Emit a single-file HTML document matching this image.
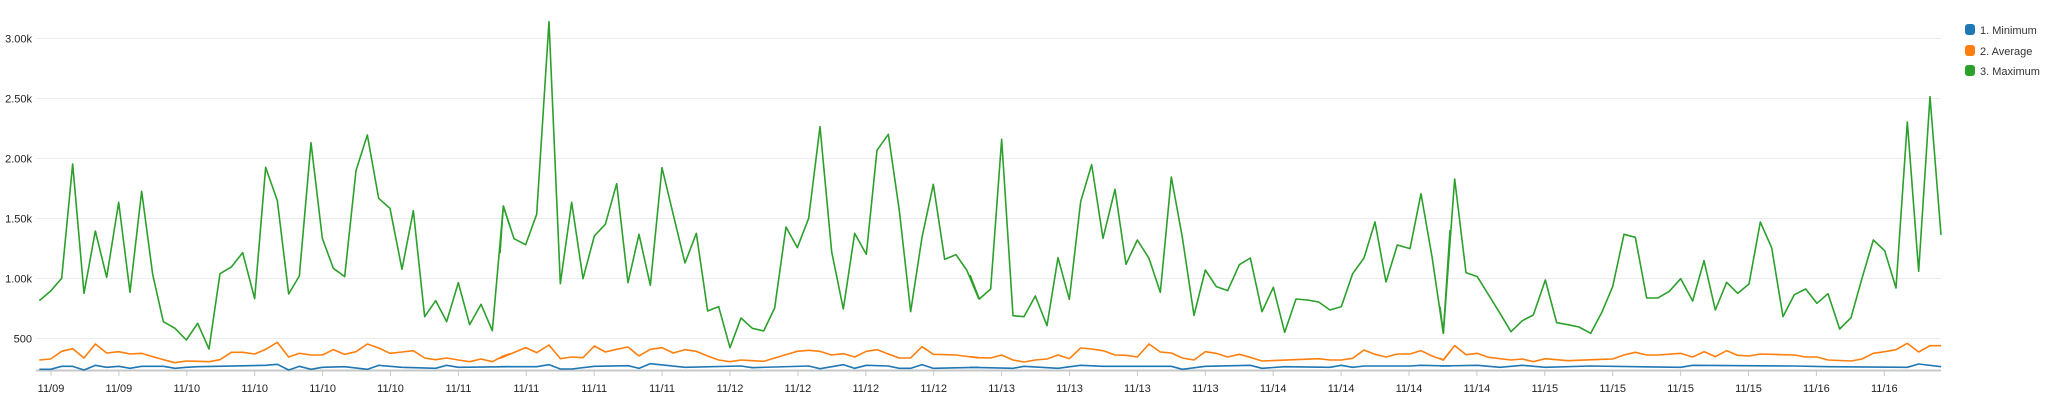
<!DOCTYPE html>
<html><head><meta charset="utf-8"><style>
html,body{margin:0;padding:0;background:#fff;}
svg{display:block;font-family:"Liberation Sans",sans-serif;}
</style></head><body>
<svg width="2048" height="418" viewBox="0 0 2048 418">
<g stroke="#ececec" stroke-width="1">
<line x1="36" y1="38.5" x2="1941" y2="38.5"/>
<line x1="36" y1="98.5" x2="1941" y2="98.5"/>
<line x1="36" y1="158.5" x2="1941" y2="158.5"/>
<line x1="36" y1="218.5" x2="1941" y2="218.5"/>
<line x1="36" y1="278.5" x2="1941" y2="278.5"/>
<line x1="36" y1="338.5" x2="1941" y2="338.5"/>
</g>
<g font-size="11" fill="#222" text-anchor="end">
<text x="32" y="42.5">3.00k</text>
<text x="32" y="102.5">2.50k</text>
<text x="32" y="162.5">2.00k</text>
<text x="32" y="222.5">1.50k</text>
<text x="32" y="282.5">1.00k</text>
<text x="32" y="342.5">500</text>
</g>
<line x1="36" y1="370.5" x2="1941" y2="370.5" stroke="#c8c8c8" stroke-width="2"/>
<g stroke="#c8c8c8" stroke-width="1">
<line x1="51" y1="371" x2="51" y2="376"/><line x1="118.9" y1="371" x2="118.9" y2="376"/><line x1="186.8" y1="371" x2="186.8" y2="376"/><line x1="254.7" y1="371" x2="254.7" y2="376"/><line x1="322.6" y1="371" x2="322.6" y2="376"/><line x1="390.5" y1="371" x2="390.5" y2="376"/><line x1="458.4" y1="371" x2="458.4" y2="376"/><line x1="526.3" y1="371" x2="526.3" y2="376"/><line x1="594.2" y1="371" x2="594.2" y2="376"/><line x1="662.1" y1="371" x2="662.1" y2="376"/><line x1="730" y1="371" x2="730" y2="376"/><line x1="797.9" y1="371" x2="797.9" y2="376"/><line x1="865.8" y1="371" x2="865.8" y2="376"/><line x1="933.7" y1="371" x2="933.7" y2="376"/><line x1="1001.6" y1="371" x2="1001.6" y2="376"/><line x1="1069.5" y1="371" x2="1069.5" y2="376"/><line x1="1137.4" y1="371" x2="1137.4" y2="376"/><line x1="1205.3" y1="371" x2="1205.3" y2="376"/><line x1="1273.2" y1="371" x2="1273.2" y2="376"/><line x1="1341.1" y1="371" x2="1341.1" y2="376"/><line x1="1409" y1="371" x2="1409" y2="376"/><line x1="1476.9" y1="371" x2="1476.9" y2="376"/><line x1="1544.8" y1="371" x2="1544.8" y2="376"/><line x1="1612.7" y1="371" x2="1612.7" y2="376"/><line x1="1680.6" y1="371" x2="1680.6" y2="376"/><line x1="1748.5" y1="371" x2="1748.5" y2="376"/><line x1="1816.4" y1="371" x2="1816.4" y2="376"/><line x1="1884.3" y1="371" x2="1884.3" y2="376"/>
</g>
<g font-size="11" fill="#222" text-anchor="middle">
<text x="51" y="392">11/09</text><text x="118.9" y="392">11/09</text><text x="186.8" y="392">11/10</text><text x="254.7" y="392">11/10</text><text x="322.6" y="392">11/10</text><text x="390.5" y="392">11/10</text><text x="458.4" y="392">11/11</text><text x="526.3" y="392">11/11</text><text x="594.2" y="392">11/11</text><text x="662.1" y="392">11/11</text><text x="730" y="392">11/12</text><text x="797.9" y="392">11/12</text><text x="865.8" y="392">11/12</text><text x="933.7" y="392">11/12</text><text x="1001.6" y="392">11/13</text><text x="1069.5" y="392">11/13</text><text x="1137.4" y="392">11/13</text><text x="1205.3" y="392">11/13</text><text x="1273.2" y="392">11/14</text><text x="1341.1" y="392">11/14</text><text x="1409" y="392">11/14</text><text x="1476.9" y="392">11/14</text><text x="1544.8" y="392">11/15</text><text x="1612.7" y="392">11/15</text><text x="1680.6" y="392">11/15</text><text x="1748.5" y="392">11/15</text><text x="1816.4" y="392">11/16</text><text x="1884.3" y="392">11/16</text>
</g>

<g fill="none" stroke-width="1.6" stroke-linejoin="round">
<g transform="translate(30,30) scale(0.33333)">
<polyline vector-effect="non-scaling-stroke" stroke="#1f77b4" points="28,1018 62,1018 95,1009 128,1009 162,1020 196,1006 230,1012 266,1009 300,1015 335,1009 400,1009 435,1015 469,1012 503,1010 707,1006 742,1003 776,1020 808,1009 843,1018 877,1012 944,1010 1012,1018 1046,1006 1116,1012 1217,1015 1250,1006 1285,1012 1440,1010"/>
<polyline vector-effect="non-scaling-stroke" stroke="#ff7f0e" points="28,990 62,987 95,964 128,956 162,984 196,942 230,969 266,965 300,972 335,970 368,980 400,989 435,998 469,993 503,994 537,995 570,989 604,967 638,967 674,972 707,958 742,937 776,981 808,970 843,975 877,975 910,959 944,973 978,965 1012,942 1046,954 1080,970 1116,966 1150,962 1184,984 1217,989 1250,984 1285,990 1319,995 1353,987 1387,995 1420,978 1440,971"/>
<polyline vector-effect="non-scaling-stroke" stroke="#2ca02c" points="28,812 62,783 95,745 128,402 162,790 196,603 230,742 266,517 300,787 335,484 368,733 400,875 435,895 469,930 503,880 537,957 570,731 604,711 638,668 674,806 707,412 742,512 776,792 808,738 843,338 877,625 910,715 944,740 978,422 1012,315 1046,505 1080,535 1116,718 1150,542 1184,860 1217,812 1250,875 1285,758 1319,884 1353,823 1387,902 1420,528 1440,590"/>
</g>
<g transform="translate(500,0) scale(0.33333)">
<polyline vector-effect="non-scaling-stroke" stroke="#1f77b4" points="0,1100 110,1100 147,1094 181,1107 215,1107 283,1099 384,1097 417,1105 451,1091 555,1102 723,1098 757,1103 926,1098 960,1106 1030,1094 1064,1105 1099,1096 1165,1098 1198,1105 1232,1105 1266,1094 1300,1105 1437,1102"/>
<polyline vector-effect="non-scaling-stroke" stroke="#ff7f0e" points="0,1075 77,1043 110,1058 147,1035 181,1076 215,1071 249,1073 283,1038 316,1056 350,1048 384,1041 417,1068 451,1048 486,1043 520,1059 555,1049 589,1054 623,1068 656,1080 690,1085 723,1080 757,1082 791,1084 824,1074 858,1064 892,1054 926,1051 960,1054 995,1065 1030,1061 1064,1071 1099,1054 1131,1049 1165,1062 1198,1074 1232,1074 1266,1040 1300,1063 1368,1065 1437,1074"/>
<polyline vector-effect="non-scaling-stroke" stroke="#2ca02c" points="0,760 10,618 42,716 77,734 110,643 147,65 181,851 215,607 249,836 283,708 316,673 350,551 384,848 417,703 451,856 486,503 520,645 555,789 589,700 623,933 656,920 690,1043 723,954 757,985 791,993 824,924 858,681 892,743 926,655 960,380 995,755 1030,927 1064,700 1099,763 1131,451 1165,403 1198,632 1232,935 1266,712 1300,553 1334,778 1368,764 1400,810 1437,898"/>
</g>
<g transform="translate(970,30) scale(0.33333)">
<polyline vector-effect="non-scaling-stroke" stroke="#1f77b4" points="0,1012 129,1015 162,1009 264,1015 332,1006 399,1009 604,1009 637,1018 706,1009 841,1006 876,1015 944,1010 1080,1012 1114,1006 1148,1012 1182,1008 1320,1008 1353,1006 1440,1008"/>
<polyline vector-effect="non-scaling-stroke" stroke="#ff7f0e" points="0,980 28,983 62,984 95,975 129,990 162,996 196,990 231,987 264,975 298,986 332,954 365,957 399,962 435,975 468,976 502,981 537,942 571,966 604,969 637,984 672,990 706,965 739,970 773,981 808,973 841,982 876,993 1046,986 1080,990 1114,990 1148,985 1182,960 1215,973 1248,981 1282,972 1320,972 1353,962 1386,978 1420,990 1440,965"/>
<polyline vector-effect="non-scaling-stroke" stroke="#2ca02c" points="0,735 28,807 62,777 95,328 129,857 162,860 196,798 231,887 264,683 298,808 332,515 365,404 399,625 435,478 468,703 502,630 537,685 571,787 604,441 637,622 672,856 706,720 739,770 773,782 808,704 841,684 876,845 910,772 944,907 978,807 1012,810 1046,816 1080,840 1114,830 1148,731 1182,684 1215,576 1248,756 1282,645 1320,656 1353,491 1386,680 1420,910 1440,600"/>
</g>
<g transform="translate(1440,30) scale(0.33333)">
<polyline vector-effect="non-scaling-stroke" stroke="#1f77b4" points="0,1008 112,1006 180,1012 247,1006 316,1012 452,1008 722,1012 758,1006 1063,1008 1164,1010 1402,1012 1436,1002 1503,1010"/>
<polyline vector-effect="non-scaling-stroke" stroke="#ff7f0e" points="0,985 10,990 44,947 78,974 112,970 146,982 213,990 247,987 280,995 316,986 384,992 486,988 518,987 552,975 586,967 620,975 654,975 722,970 758,981 792,965 826,980 860,962 893,976 927,978 961,972 1063,975 1097,981 1131,981 1164,990 1233,993 1266,987 1300,970 1334,965 1368,959 1402,940 1436,966 1470,947 1503,947"/>
<polyline vector-effect="non-scaling-stroke" stroke="#2ca02c" points="0,830 10,910 44,447 78,728 112,740 146,795 180,850 213,905 247,872 280,855 316,750 350,878 384,884 417,891 452,910 486,846 518,770 552,613 586,622 620,804 654,804 688,784 722,746 758,813 792,692 826,840 860,757 893,790 927,762 961,576 995,653 1029,860 1063,794 1097,777 1131,820 1164,791 1199,897 1233,863 1266,745 1300,630 1334,662 1368,774 1402,276 1436,724 1470,200 1503,615"/>
</g>
</g>

<g font-size="11" fill="#333">
<rect x="1965" y="24" width="10" height="11" rx="3" fill="#1f77b4"/>
<text x="1980" y="34">1. Minimum</text>
<rect x="1965" y="45" width="10" height="11" rx="3" fill="#ff7f0e"/>
<text x="1980" y="55">2. Average</text>
<rect x="1965" y="65" width="10" height="11" rx="3" fill="#2ca02c"/>
<text x="1980" y="75">3. Maximum</text>
</g>
</svg>
</body></html>
